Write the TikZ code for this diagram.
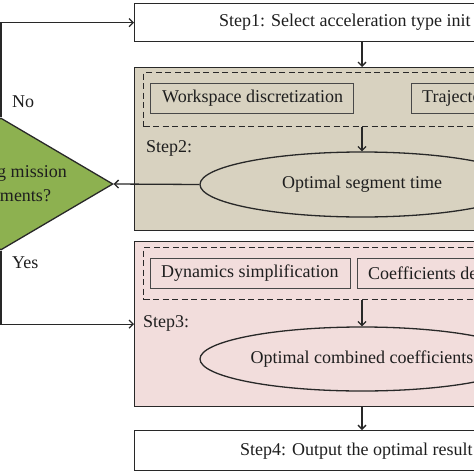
\documentclass[tikz,border=0pt]{standalone}
\usepackage{fontspec}
\setmainfont{Liberation Serif}
\usetikzlibrary{shapes.geometric,arrows.meta}
\definecolor{beigebg}{RGB}{216,210,192}
\definecolor{pinkbg}{RGB}{242,221,220}
\definecolor{greenfill}{RGB}{141,177,80}
\definecolor{linec}{RGB}{40,40,40}
\definecolor{textc}{RGB}{30,30,30}
\begin{document}
\begin{tikzpicture}[x=1pt,y=-1pt,
  font=\fontsize{18}{24}\selectfont, text=textc,
  stepbox/.style={draw=linec, line width=1.3pt, anchor=north west, inner sep=0pt, minimum width=400pt},
  dashbox/.style={draw=linec, line width=1.2pt, dash pattern=on 6pt off 3.5pt, anchor=north west, inner sep=0pt, minimum width=400pt},
  subbox/.style={draw=linec!85, line width=1pt, anchor=north west, inner sep=0pt, minimum height=30pt},
  oval/.style={ellipse, draw=linec, line width=1.3pt, inner sep=0pt, minimum width=324pt, minimum height=65pt},
  lbl/.style={anchor=west, inner sep=0pt},
  arr/.style={draw=linec, line width=1.3pt, -{Straight Barb[length=4pt,width=8pt]}}]
\useasboundingbox (0,0) rectangle (474,474);
\clip (0,0) rectangle (474,474);
\fill[white] (0,0) rectangle (474,474);

% Step 1
\node[stepbox, minimum height=38pt] (s1) at (134,3) {};
\node[lbl] (t1) at (219,22) {Step1: Select acceleration type init};

% Step 2
\node[stepbox, fill=beigebg, minimum height=163pt] (s2) at (134,67) {};
\node[dashbox, minimum height=54pt] (d2) at (143,72) {};
\node[subbox, minimum width=203pt] (wd) at (150,83) {};
\node[lbl] (twd) at (162,98) {Workspace discretization};
\node[subbox, minimum width=200pt] (tr) at (411,83) {};
\node[lbl] (ttr) at (422,98) {Trajectory};
\node[lbl] (t2) at (146,148) {Step2:};
\node[oval, fill=beigebg] (e2) at (362,184.5) {Optimal segment time};

% Step 3
\node[stepbox, fill=pinkbg, minimum height=165pt] (s3) at (134,241) {};
\node[dashbox, minimum height=52pt] (d3) at (143,247) {};
\node[subbox, minimum width=200pt] (ds) at (150,258) {};
\node[lbl] (tds) at (161,273) {Dynamics simplification};
\node[subbox, minimum width=250pt] (cd) at (357,258) {};
\node[lbl] (tcd) at (368,273) {Coefficients determination};
\node[lbl] (t3) at (143,323) {Step3:};
\node[oval, fill=pinkbg, minimum height=64pt] (e3) at (362,359) {Optimal combined coefficients};

% Step 4
\node[stepbox, minimum height=40pt] (s4) at (134,430) {};
\node[lbl] (t4) at (240,451) {Step4: Output the optimal result};

% Decision
\node[diamond, draw=linec, line width=1.3pt, fill=greenfill, inner sep=0pt,
      minimum width=224pt, minimum height=132pt] (dia) at (1,184) {};
\node[align=center, inner sep=0pt] (tdia) at (0,185) {Satisfying mission\\requirements?};

% Labels
\node[lbl] (no) at (12,102) {No};
\node[lbl] (yes) at (12,263) {Yes};

% Connectors
\draw[arr] (s1.south -| e2.north) -- (s2.north -| e2.north);
\draw[arr] (d2.south -| e2.north) -- (e2.north);
\draw[arr] (e2.west) -- (dia.east);
\draw[arr] (dia.north) |- (s1.west);
\draw[arr] (dia.south) |- (s3.west);
\draw[arr] (d3.south -| e3.north) -- (e3.north);
\draw[arr] (s3.south -| e3.north) -- (s4.north -| e3.north);
\end{tikzpicture}
\end{document}
